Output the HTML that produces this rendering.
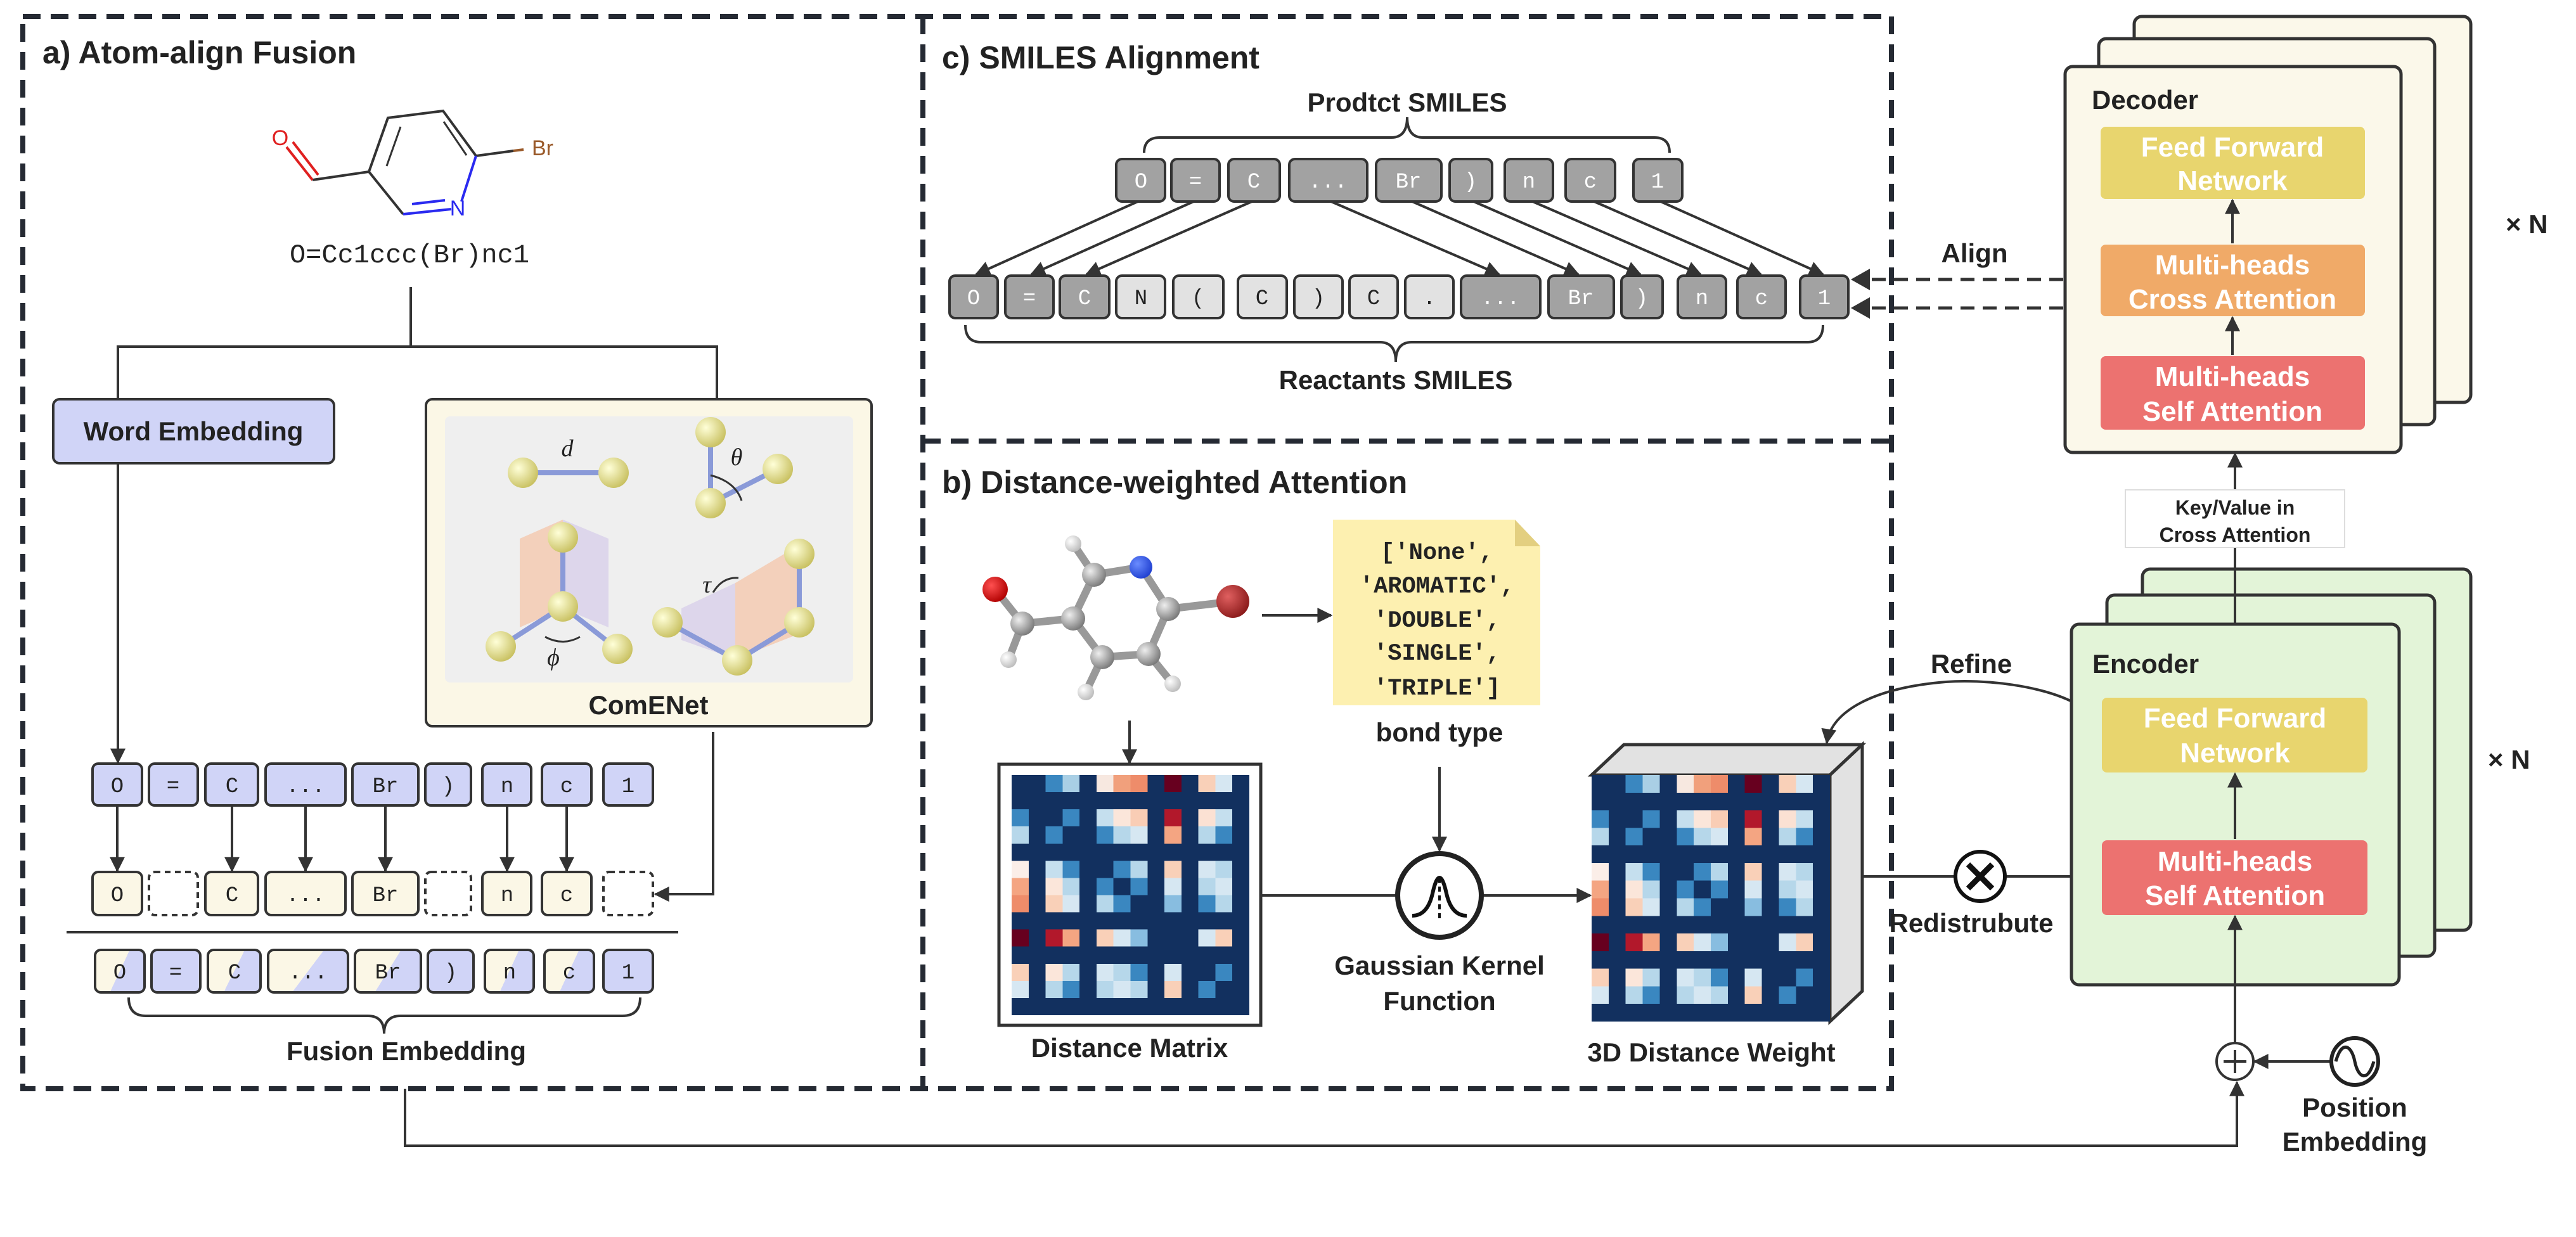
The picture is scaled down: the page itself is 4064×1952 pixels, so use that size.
<!DOCTYPE html>
<html><head><meta charset="utf-8"><style>
html,body{margin:0;padding:0;background:#fff}
svg{display:block}
text{font-family:"Liberation Sans",sans-serif;fill:#222}
.t{font-size:50px;font-weight:bold}
.l{font-size:42px;font-weight:bold}
.m text, text.m{font-family:"Liberation Mono",monospace;font-size:34px}
.nb text{font-family:"Liberation Mono",monospace;font-size:37px;font-weight:bold}
.wt text{fill:#fff}
.w{fill:#fff;font-size:44px;font-weight:bold}
</style></head><body>
<svg width="4064" height="1952" viewBox="0 0 4064 1952" xmlns="http://www.w3.org/2000/svg">
<defs>
<marker id="ar2" viewBox="0 0 10 10" refX="9" refY="5" markerWidth="26" markerHeight="24" orient="auto" markerUnits="userSpaceOnUse"><path d="M0,0L10,5L0,10z" fill="#333"/></marker>
<linearGradient id="sp" x1="0" y1="0.3" x2="1" y2="0.7"><stop offset="0.5" stop-color="#fbf7e6"/><stop offset="0.5" stop-color="#d0d4f7"/></linearGradient>
<radialGradient id="gb" cx="0.35" cy="0.35" r="0.7"><stop offset="0" stop-color="#eee"/><stop offset="1" stop-color="#777"/></radialGradient>
<radialGradient id="yb" cx="0.35" cy="0.35" r="0.7"><stop offset="0" stop-color="#ffffd8"/><stop offset="1" stop-color="#c8c060"/></radialGradient>
<radialGradient id="rb" cx="0.35" cy="0.35" r="0.7"><stop offset="0" stop-color="#ff5050"/><stop offset="1" stop-color="#b00000"/></radialGradient>
<radialGradient id="bb" cx="0.35" cy="0.35" r="0.7"><stop offset="0" stop-color="#6a8cff"/><stop offset="1" stop-color="#1f3fd0"/></radialGradient>
<radialGradient id="db" cx="0.35" cy="0.35" r="0.7"><stop offset="0" stop-color="#e06060"/><stop offset="1" stop-color="#8a1a1a"/></radialGradient>
<radialGradient id="hb" cx="0.35" cy="0.35" r="0.7"><stop offset="0" stop-color="#fff"/><stop offset="1" stop-color="#bbb"/></radialGradient>
<symbol id="hm" viewBox="0 0 14 14" preserveAspectRatio="none">
<rect width="14" height="14" fill="#12305f"/>
<g shape-rendering="crispEdges">
<rect x="2" y="0" width="1" height="1" fill="#3a87c0"/><rect x="3" y="0" width="1" height="1" fill="#a9cfe5"/><rect x="5" y="0" width="1" height="1" fill="#f7e8e0"/><rect x="6" y="0" width="1" height="1" fill="#f1a07c"/><rect x="7" y="0" width="1" height="1" fill="#ee8c6a"/><rect x="9" y="0" width="1" height="1" fill="#67001f"/><rect x="11" y="0" width="1" height="1" fill="#f9d0b8"/><rect x="12" y="0" width="1" height="1" fill="#d6e7f2"/>
<rect x="0" y="2" width="1" height="1" fill="#3a87c0"/><rect x="3" y="2" width="1" height="1" fill="#3a87c0"/><rect x="5" y="2" width="1" height="1" fill="#c5dfee"/><rect x="6" y="2" width="1" height="1" fill="#fbe6da"/><rect x="7" y="2" width="1" height="1" fill="#f9cdb5"/><rect x="9" y="2" width="1" height="1" fill="#b2182b"/><rect x="11" y="2" width="1" height="1" fill="#fbe1d3"/><rect x="12" y="2" width="1" height="1" fill="#c5dfee"/>
<rect x="0" y="3" width="1" height="1" fill="#b6d7ea"/><rect x="2" y="3" width="1" height="1" fill="#3a87c0"/><rect x="5" y="3" width="1" height="1" fill="#3a87c0"/><rect x="6" y="3" width="1" height="1" fill="#b6d7ea"/><rect x="7" y="3" width="1" height="1" fill="#d6e7f2"/><rect x="9" y="3" width="1" height="1" fill="#f4a582"/><rect x="11" y="3" width="1" height="1" fill="#b6d7ea"/><rect x="12" y="3" width="1" height="1" fill="#3a87c0"/>
<rect x="0" y="5" width="1" height="1" fill="#fbeee8"/><rect x="2" y="5" width="1" height="1" fill="#c5dfee"/><rect x="3" y="5" width="1" height="1" fill="#3a87c0"/><rect x="6" y="5" width="1" height="1" fill="#3a87c0"/><rect x="7" y="5" width="1" height="1" fill="#b6d7ea"/><rect x="9" y="5" width="1" height="1" fill="#f9d0b8"/><rect x="11" y="5" width="1" height="1" fill="#d6e7f2"/><rect x="12" y="5" width="1" height="1" fill="#b6d7ea"/>
<rect x="0" y="6" width="1" height="1" fill="#f4a582"/><rect x="2" y="6" width="1" height="1" fill="#fbe6da"/><rect x="3" y="6" width="1" height="1" fill="#b6d7ea"/><rect x="5" y="6" width="1" height="1" fill="#3a87c0"/><rect x="7" y="6" width="1" height="1" fill="#3a87c0"/><rect x="9" y="6" width="1" height="1" fill="#d6e7f2"/><rect x="11" y="6" width="1" height="1" fill="#b6d7ea"/><rect x="12" y="6" width="1" height="1" fill="#d6e7f2"/>
<rect x="0" y="7" width="1" height="1" fill="#ee8c6a"/><rect x="2" y="7" width="1" height="1" fill="#f9d0b8"/><rect x="3" y="7" width="1" height="1" fill="#d6e7f2"/><rect x="5" y="7" width="1" height="1" fill="#b6d7ea"/><rect x="6" y="7" width="1" height="1" fill="#3a87c0"/><rect x="9" y="7" width="1" height="1" fill="#88bde0"/><rect x="11" y="7" width="1" height="1" fill="#3a87c0"/><rect x="12" y="7" width="1" height="1" fill="#b6d7ea"/>
<rect x="0" y="9" width="1" height="1" fill="#67001f"/><rect x="2" y="9" width="1" height="1" fill="#b2182b"/><rect x="3" y="9" width="1" height="1" fill="#f4a582"/><rect x="5" y="9" width="1" height="1" fill="#f9d0b8"/><rect x="6" y="9" width="1" height="1" fill="#d6e7f2"/><rect x="7" y="9" width="1" height="1" fill="#88bde0"/><rect x="11" y="9" width="1" height="1" fill="#d6e7f2"/><rect x="12" y="9" width="1" height="1" fill="#f9d0b8"/>
<rect x="0" y="11" width="1" height="1" fill="#f9d0b8"/><rect x="2" y="11" width="1" height="1" fill="#fbe6da"/><rect x="3" y="11" width="1" height="1" fill="#b6d7ea"/><rect x="5" y="11" width="1" height="1" fill="#d6e7f2"/><rect x="6" y="11" width="1" height="1" fill="#b6d7ea"/><rect x="7" y="11" width="1" height="1" fill="#3a87c0"/><rect x="9" y="11" width="1" height="1" fill="#d6e7f2"/><rect x="12" y="11" width="1" height="1" fill="#3a87c0"/>
<rect x="0" y="12" width="1" height="1" fill="#d6e7f2"/><rect x="2" y="12" width="1" height="1" fill="#b6d7ea"/><rect x="3" y="12" width="1" height="1" fill="#3a87c0"/><rect x="5" y="12" width="1" height="1" fill="#b6d7ea"/><rect x="6" y="12" width="1" height="1" fill="#d6e7f2"/><rect x="7" y="12" width="1" height="1" fill="#b6d7ea"/><rect x="9" y="12" width="1" height="1" fill="#f9d0b8"/><rect x="11" y="12" width="1" height="1" fill="#3a87c0"/>
</g></symbol>
</defs>

<!-- dashed frames -->
<g fill="none" stroke="#252a33" stroke-width="8" stroke-dasharray="28 16">
<rect x="36" y="26" width="2948" height="1692"/>
<line x1="1456" y1="26" x2="1456" y2="1718"/>
<line x1="1456" y1="696" x2="2984" y2="696"/>
</g>

<!-- ===== a) ===== -->
<text class="t" x="67" y="100">a) Atom-align Fusion</text>
<g fill="none" stroke="#333" stroke-width="4">
<path d="M493,284 L582,271 L612,186 L699,175 L751,246 M636,338 L582,271 M751,246 L810,238"/>
<path d="M610,262 L632,200 M700,192 L736,245" stroke-width="3"/>
</g>
<path d="M493,284 L452,232 M502,276 L462,224" stroke="#e02020" stroke-width="4" fill="none"/>
<path d="M636,338 L712,330 M650,322 L702,316 M728,318 L751,246" stroke="#2a2af0" stroke-width="4" fill="none"/>
<path d="M810,238 L826,236" stroke="#9a5a2a" stroke-width="4"/>
<text x="442" y="229" font-size="34" text-anchor="middle" style="fill:#e02020">O</text>
<text x="722" y="340" font-size="34" text-anchor="middle" style="fill:#2a2af0">N</text>
<text x="856" y="245" font-size="34" text-anchor="middle" style="fill:#9a5a2a">Br</text>
<text class="m" x="646" y="414" text-anchor="middle" style="font-size:42px">O=Cc1ccc(Br)nc1</text>

<g fill="none" stroke="#333" stroke-width="4">
<path d="M648,453 V547 M186,631 V547 H1131 V631"/>
</g>
<rect x="84" y="630" width="443" height="101" rx="10" fill="#d0d4f7" stroke="#333" stroke-width="4"/>
<text class="l" x="305" y="695" text-anchor="middle">Word Embedding</text>
<rect x="672" y="630" width="703" height="516" rx="10" fill="#fbf7e6" stroke="#333" stroke-width="4"/>
<rect x="702" y="657" width="644" height="420" rx="8" fill="#efefef"/>
<polygon points="820,850 888,820 888,960 820,990" fill="#f4c8ae" opacity="0.8"/>
<polygon points="888,820 960,850 960,990 888,960" fill="#d8d0ea" opacity="0.8"/>
<polygon points="1075,960 1160,920 1160,1040 1075,1010" fill="#d8d0ea" opacity="0.8"/>
<polygon points="1160,920 1261,860 1261,1000 1160,1040" fill="#f4c8ae" opacity="0.8"/>
<g stroke="#8a9ad8" stroke-width="8" fill="none">
<path d="M825,746 H968 M1121,682 V794 L1227,740 M888,848 V957 L790,1020 M888,957 L974,1024 M1261,874 V982 L1163,1042 L1053,982"/>
</g>
<g fill="url(#yb)">
<circle cx="825" cy="746" r="24"/><circle cx="968" cy="746" r="24"/>
<circle cx="1121" cy="682" r="24"/><circle cx="1121" cy="794" r="24"/><circle cx="1227" cy="740" r="24"/>
<circle cx="888" cy="848" r="24"/><circle cx="888" cy="957" r="24"/><circle cx="790" cy="1020" r="24"/><circle cx="974" cy="1024" r="24"/>
<circle cx="1261" cy="874" r="24"/><circle cx="1261" cy="982" r="24"/><circle cx="1163" cy="1042" r="24"/><circle cx="1053" cy="982" r="24"/>
</g>
<g font-style="italic" font-size="38" text-anchor="middle">
<text x="895" y="720" style="font-family:'Liberation Serif',serif">d</text>
<text x="1162" y="734" style="font-family:'Liberation Serif',serif">θ</text>
<text x="873" y="1050" style="font-family:'Liberation Serif',serif">ϕ</text>
<text x="1115" y="935" style="font-family:'Liberation Serif',serif">τ</text>
</g>
<path d="M1121,750 Q1160,760 1170,790 M860,1005 Q888,1020 915,1005 M1125,935 Q1140,910 1165,912" stroke="#333" stroke-width="3" fill="none"/>
<text class="l" x="1023" y="1127" text-anchor="middle">ComENet</text>

<!-- token rows -->
<g stroke="#333" stroke-width="4" fill="none">
<line x1="186" y1="731" x2="186" y2="1203" marker-end="url(#ar2)"/>
<path d="M1125,1155 V1411 H1034" marker-end="url(#ar2)"/>
<line x1="185" y1="1271" x2="185" y2="1374" marker-end="url(#ar2)"/>
<line x1="366" y1="1271" x2="366" y2="1374" marker-end="url(#ar2)"/>
<line x1="482" y1="1271" x2="482" y2="1374" marker-end="url(#ar2)"/>
<line x1="608" y1="1271" x2="608" y2="1374" marker-end="url(#ar2)"/>
<line x1="800" y1="1271" x2="800" y2="1374" marker-end="url(#ar2)"/>
<line x1="894" y1="1271" x2="894" y2="1374" marker-end="url(#ar2)"/>
<line x1="105" y1="1471" x2="1070" y2="1471"/>
<path d="M203,1574 Q203,1603 230,1603 H580 Q606,1603 606,1631 Q606,1603 632,1603 H982 Q1010,1603 1010,1574"/>
<path d="M639,1718 V1808 H3529 V1708" marker-end="url(#ar2)"/>
</g>
<g stroke="#333" stroke-width="4" fill="#d0d4f7">
<rect x="146" y="1205" width="78" height="66" rx="9"/><rect x="235" y="1205" width="77" height="66" rx="9"/><rect x="324" y="1205" width="83" height="66" rx="9"/><rect x="419" y="1205" width="126" height="66" rx="9"/><rect x="556" y="1205" width="104" height="66" rx="9"/><rect x="671" y="1205" width="72" height="66" rx="9"/><rect x="761" y="1205" width="77" height="66" rx="9"/><rect x="855" y="1205" width="78" height="66" rx="9"/><rect x="952" y="1205" width="78" height="66" rx="9"/>
</g>
<g stroke="#333" stroke-width="4" fill="#fbf7e6">
<rect x="146" y="1376" width="78" height="68" rx="9"/><rect x="324" y="1376" width="83" height="68" rx="9"/><rect x="419" y="1376" width="126" height="68" rx="9"/><rect x="556" y="1376" width="104" height="68" rx="9"/><rect x="761" y="1376" width="77" height="68" rx="9"/><rect x="855" y="1376" width="78" height="68" rx="9"/>
</g>
<g stroke="#333" stroke-width="4" fill="none" stroke-dasharray="9 7">
<rect x="235" y="1376" width="77" height="68" rx="9"/><rect x="671" y="1376" width="72" height="68" rx="9"/><rect x="952" y="1376" width="78" height="68" rx="9"/>
</g>
<g stroke="#333" stroke-width="4">
<rect x="150" y="1499" width="78" height="67" rx="9" fill="url(#sp)"/><rect x="239" y="1499" width="77" height="67" rx="9" fill="#d0d4f7"/><rect x="328" y="1499" width="83" height="67" rx="9" fill="url(#sp)"/><rect x="423" y="1499" width="126" height="67" rx="9" fill="url(#sp)"/><rect x="560" y="1499" width="104" height="67" rx="9" fill="url(#sp)"/><rect x="675" y="1499" width="72" height="67" rx="9" fill="#d0d4f7"/><rect x="765" y="1499" width="77" height="67" rx="9" fill="url(#sp)"/><rect x="859" y="1499" width="78" height="67" rx="9" fill="url(#sp)"/><rect x="952" y="1499" width="78" height="67" rx="9" fill="#d0d4f7"/>
</g>
<g class="m" text-anchor="middle">
<text x="185" y="1250">O</text><text x="273" y="1250">=</text><text x="366" y="1250">C</text><text x="482" y="1250">...</text><text x="608" y="1250">Br</text><text x="707" y="1250">)</text><text x="800" y="1250">n</text><text x="894" y="1250">c</text><text x="991" y="1250">1</text>
<text x="185" y="1422">O</text><text x="366" y="1422">C</text><text x="482" y="1422">...</text><text x="608" y="1422">Br</text><text x="800" y="1422">n</text><text x="894" y="1422">c</text>
<text x="189" y="1544">O</text><text x="277" y="1544">=</text><text x="370" y="1544">C</text><text x="486" y="1544">...</text><text x="612" y="1544">Br</text><text x="711" y="1544">)</text><text x="804" y="1544">n</text><text x="898" y="1544">c</text><text x="991" y="1544">1</text>
</g>
<text class="l" x="641" y="1673" text-anchor="middle">Fusion Embedding</text>

<!-- ===== c) ===== -->
<text class="t" x="1486" y="108">c) SMILES Alignment</text>
<text class="l" x="2220" y="176" text-anchor="middle">Prodtct SMILES</text>
<g fill="none" stroke="#333" stroke-width="4">
<path d="M1805,241 Q1805,217 1830,217 H2195 Q2220,217 2220,185 Q2220,217 2245,217 H2610 Q2634,217 2634,241"/>
<path d="M1523,513 Q1523,540 1548,540 H2177 Q2202,540 2202,571 Q2202,540 2227,540 H2851 Q2876,540 2876,513"/>
<g marker-end="url(#ar2)">
<line x1="1795" y1="318" x2="1540" y2="433"/><line x1="1883" y1="318" x2="1627" y2="433"/><line x1="1975" y1="318" x2="1714" y2="433"/>
<line x1="2100" y1="318" x2="2365" y2="433"/><line x1="2228" y1="318" x2="2490" y2="433"/><line x1="2325" y1="318" x2="2588" y2="433"/><line x1="2418" y1="318" x2="2683" y2="433"/><line x1="2515" y1="318" x2="2778" y2="433"/><line x1="2620" y1="318" x2="2876" y2="433"/>
</g>
</g>
<g stroke="#333" stroke-width="4" fill="#a2a2a2">
<rect x="1761" y="251" width="77" height="67" rx="9"/><rect x="1848" y="251" width="76" height="67" rx="9"/><rect x="1938" y="251" width="81" height="67" rx="9"/><rect x="2034" y="251" width="123" height="67" rx="9"/><rect x="2171" y="251" width="103" height="67" rx="9"/><rect x="2287" y="251" width="67" height="67" rx="9"/><rect x="2374" y="251" width="76" height="67" rx="9"/><rect x="2470" y="251" width="78" height="67" rx="9"/><rect x="2577" y="251" width="77" height="67" rx="9"/>
<rect x="1498" y="435" width="76" height="67" rx="9"/><rect x="1586" y="435" width="76" height="67" rx="9"/><rect x="1672" y="435" width="78" height="67" rx="9"/>
<rect x="2305" y="435" width="125" height="67" rx="9"/><rect x="2443" y="435" width="103" height="67" rx="9"/><rect x="2558" y="435" width="65" height="67" rx="9"/><rect x="2647" y="435" width="76" height="67" rx="9"/><rect x="2741" y="435" width="76" height="67" rx="9"/><rect x="2840" y="435" width="76" height="67" rx="9"/>
</g>
<g stroke="#333" stroke-width="4" fill="#e2e2e2">
<rect x="1761" y="435" width="77" height="67" rx="9"/><rect x="1851" y="435" width="79" height="67" rx="9"/><rect x="1953" y="435" width="77" height="67" rx="9"/><rect x="2042" y="435" width="76" height="67" rx="9"/><rect x="2129" y="435" width="76" height="67" rx="9"/><rect x="2217" y="435" width="76" height="67" rx="9"/>
</g>
<g class="m wt" text-anchor="middle">
<text x="1800" y="296">O</text><text x="1886" y="296">=</text><text x="1978" y="296">C</text><text x="2095" y="296">...</text><text x="2222" y="296">Br</text><text x="2320" y="296">)</text><text x="2412" y="296">n</text><text x="2509" y="296">c</text><text x="2615" y="296">1</text>
<text x="1536" y="480">O</text><text x="1624" y="480">=</text><text x="1711" y="480">C</text><text x="2367" y="480">...</text><text x="2494" y="480">Br</text><text x="2590" y="480">)</text><text x="2685" y="480">n</text><text x="2779" y="480">c</text><text x="2878" y="480">1</text>
</g>
<g class="m" text-anchor="middle">
<text x="1800" y="480">N</text><text x="1890" y="480">(</text><text x="1991" y="480">C</text><text x="2080" y="480">)</text><text x="2167" y="480">C</text><text x="2255" y="480">.</text>
</g>
<text class="l" x="2202" y="614" text-anchor="middle">Reactants SMILES</text>
<g stroke="#333" stroke-width="5" fill="none" stroke-dasharray="22 13">
<line x1="3290" y1="441" x2="2945" y2="441"/><line x1="3290" y1="486" x2="2945" y2="486"/>
</g>
<path d="M2920,441 l30,-17 v34z M2920,486 l30,-17 v34z M3313,441 l-30,-17 v34z M3313,486 l-30,-17 v34z" fill="#333"/>
<text class="l" x="3115" y="414" text-anchor="middle">Align</text>

<!-- ===== b) ===== -->
<text class="t" x="1486" y="778">b) Distance-weighted Attention</text>
<g stroke="#999" stroke-width="12" stroke-linecap="round" fill="none">
<path d="M1570,930 L1613,984 L1693,976 L1726,907 L1800,895 L1843,961 L1945,949 M1843,961 L1812,1032 L1739,1037 L1693,976 M1726,907 L1693,858 M1613,984 L1591,1041 M1739,1037 L1713,1092 M1812,1032 L1850,1079"/>
</g>
<circle cx="1693" cy="858" r="13" fill="url(#hb)"/><circle cx="1591" cy="1041" r="13" fill="url(#hb)"/><circle cx="1713" cy="1092" r="13" fill="url(#hb)"/><circle cx="1850" cy="1079" r="13" fill="url(#hb)"/>
<circle cx="1570" cy="930" r="20" fill="url(#rb)"/>
<circle cx="1613" cy="984" r="19" fill="url(#gb)"/><circle cx="1693" cy="976" r="19" fill="url(#gb)"/><circle cx="1726" cy="907" r="19" fill="url(#gb)"/><circle cx="1843" cy="961" r="19" fill="url(#gb)"/><circle cx="1812" cy="1032" r="19" fill="url(#gb)"/><circle cx="1739" cy="1037" r="19" fill="url(#gb)"/>
<circle cx="1800" cy="895" r="18" fill="url(#bb)"/>
<circle cx="1945" cy="949" r="26" fill="url(#db)"/>
<line x1="1991" y1="971" x2="2100" y2="971" stroke="#333" stroke-width="4" marker-end="url(#ar2)"/>
<path d="M2103,820 H2390 L2430,862 V1113 H2103z" fill="#fdf0b0"/>
<path d="M2390,820 L2430,862 H2390z" fill="#e3cf80"/>
<g class="nb" text-anchor="middle">
<text x="2267" y="882">['None',</text><text x="2267" y="935">'AROMATIC',</text><text x="2267" y="989">'DOUBLE',</text><text x="2267" y="1041">'SINGLE',</text><text x="2267" y="1096">'TRIPLE']</text>
</g>
<text class="l" x="2271" y="1170" text-anchor="middle">bond type</text>
<g stroke="#333" stroke-width="4" fill="none">
<line x1="2271" y1="1210" x2="2271" y2="1342" marker-end="url(#ar2)"/>
<line x1="1782" y1="1137" x2="1782" y2="1204" marker-end="url(#ar2)"/>
<line x1="1989" y1="1413" x2="2203" y2="1413"/>
<line x1="2339" y1="1413" x2="2509" y2="1413" marker-end="url(#ar2)"/>
</g>
<rect x="1576" y="1206" width="413" height="412" fill="#fff" stroke="#333" stroke-width="5"/>
<svg x="1596" y="1223" width="375" height="379" viewBox="0 0 14 14" preserveAspectRatio="none"><use href="#hm"/></svg>
<circle cx="2271" cy="1413" r="66" fill="#fff" stroke="#222" stroke-width="8"/>
<path d="M2228,1445 Q2252,1445 2260,1410 Q2271,1360 2282,1410 Q2290,1445 2314,1445" stroke="#111" stroke-width="6" fill="none"/>
<line x1="2271" y1="1385" x2="2271" y2="1450" stroke="#111" stroke-width="4" stroke-dasharray="8 6"/>
<text class="l" x="2271" y="1538" text-anchor="middle">Gaussian Kernel</text>
<text class="l" x="2271" y="1594" text-anchor="middle">Function</text>
<text class="l" x="1782" y="1668" text-anchor="middle">Distance Matrix</text>
<polygon points="2511,1223 2562,1175 2938,1175 2887,1223" fill="#e2e2e2" stroke="#333" stroke-width="5"/>
<polygon points="2887,1223 2938,1175 2938,1564 2887,1612" fill="#e2e2e2" stroke="#333" stroke-width="5"/>
<svg x="2511" y="1223" width="376" height="389" viewBox="0 0 14 14" preserveAspectRatio="none"><use href="#hm"/></svg>
<text class="l" x="2700" y="1675" text-anchor="middle">3D Distance Weight</text>

<g stroke="#333" stroke-width="4" fill="none">
<line x1="2938" y1="1383" x2="3084" y2="1383"/>
<line x1="3164" y1="1383" x2="3314" y2="1383" marker-end="url(#ar2)"/>
<path d="M3316,1155 C3300,1090 3150,1070 3070,1076 C2960,1085 2890,1120 2882,1172" marker-end="url(#ar2)"/>
</g>
<circle cx="3124" cy="1383" r="39" fill="#fff" stroke="#111" stroke-width="6"/>
<path d="M3105,1364 L3143,1402 M3143,1364 L3105,1402" stroke="#111" stroke-width="9"/>
<text class="l" x="3110" y="1471" text-anchor="middle">Redistrubute</text>
<text class="l" x="3110" y="1062" text-anchor="middle">Refine</text>

<!-- Decoder -->
<rect x="3367" y="26" width="531" height="609" rx="12" fill="#fbf8ea" stroke="#333" stroke-width="5"/>
<rect x="3311" y="61" width="530" height="609" rx="12" fill="#fbf8ea" stroke="#333" stroke-width="5"/>
<rect x="3258" y="105" width="530" height="609" rx="12" fill="#fbf8ea" stroke="#333" stroke-width="5"/>
<text class="l" x="3300" y="172">Decoder</text>
<rect x="3314" y="200" width="417" height="114" rx="8" fill="#e8d56e"/>
<rect x="3314" y="386" width="417" height="113" rx="8" fill="#f0aa68"/>
<rect x="3314" y="562" width="417" height="116" rx="8" fill="#ec7270"/>
<g text-anchor="middle">
<text class="w" x="3522" y="247">Feed Forward</text><text class="w" x="3522" y="300">Network</text>
<text class="w" x="3522" y="433">Multi-heads</text><text class="w" x="3522" y="487">Cross Attention</text>
<text class="w" x="3522" y="609">Multi-heads</text><text class="w" x="3522" y="664">Self Attention</text>
</g>
<g stroke="#333" stroke-width="4">
<line x1="3522" y1="384" x2="3522" y2="316" marker-end="url(#ar2)"/>
<line x1="3522" y1="560" x2="3522" y2="501" marker-end="url(#ar2)"/>
<line x1="3526" y1="985" x2="3526" y2="716" marker-end="url(#ar2)"/>
</g>
<rect x="3353" y="773" width="346" height="91" fill="#fff" stroke="#ddd" stroke-width="2"/>
<text x="3526" y="812" text-anchor="middle" style="font-size:32px;font-weight:bold">Key/Value in</text>
<text x="3526" y="855" text-anchor="middle" style="font-size:32px;font-weight:bold">Cross Attention</text>
<text class="l" x="3953" y="368">× N</text>

<!-- Encoder -->
<rect x="3380" y="898" width="518" height="570" rx="12" fill="#e3f4d8" stroke="#333" stroke-width="5"/>
<rect x="3324" y="939" width="517" height="570" rx="12" fill="#e3f4d8" stroke="#333" stroke-width="5"/>
<rect x="3268" y="985" width="517" height="569" rx="12" fill="#e3f4d8" stroke="#333" stroke-width="5"/>
<text class="l" x="3301" y="1062">Encoder</text>
<rect x="3316" y="1101" width="419" height="118" rx="8" fill="#e8d56e"/>
<rect x="3316" y="1326" width="419" height="118" rx="8" fill="#ec7270"/>
<g text-anchor="middle">
<text class="w" x="3526" y="1148">Feed Forward</text><text class="w" x="3526" y="1203">Network</text>
<text class="w" x="3526" y="1374">Multi-heads</text><text class="w" x="3526" y="1428">Self Attention</text>
</g>
<g stroke="#333" stroke-width="4" fill="none">
<line x1="3526" y1="985" x2="3526" y2="898"/>
<line x1="3526" y1="1324" x2="3526" y2="1221" marker-end="url(#ar2)"/>
<line x1="3526" y1="1645" x2="3526" y2="1446" marker-end="url(#ar2)"/>
<line x1="3676" y1="1675" x2="3557" y2="1675" marker-end="url(#ar2)"/>
</g>
<text class="l" x="3925" y="1213">× N</text>
<circle cx="3526" cy="1675" r="29" fill="#fff" stroke="#333" stroke-width="4"/>
<path d="M3508,1675 H3544 M3526,1657 V1693" stroke="#333" stroke-width="4"/>
<circle cx="3715" cy="1675" r="37" fill="#fff" stroke="#222" stroke-width="6"/>
<path d="M3685,1675 C3695,1640 3710,1650 3715,1675 C3720,1700 3735,1710 3745,1675" stroke="#222" stroke-width="5" fill="none"/>
<text class="l" x="3715" y="1762" text-anchor="middle">Position</text>
<text class="l" x="3715" y="1816" text-anchor="middle">Embedding</text>
</svg>
</body></html>
